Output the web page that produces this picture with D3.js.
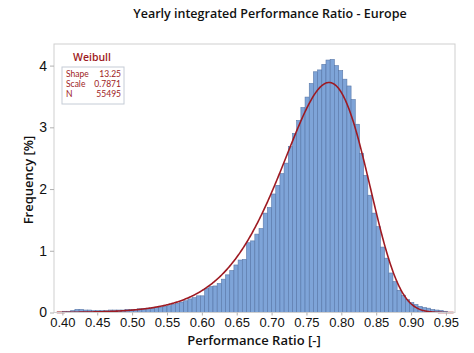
<!DOCTYPE html>
<html>
<head>
<meta charset="utf-8">
<script src="https://cdnjs.cloudflare.com/ajax/libs/d3/7.8.5/d3.min.js"></script>
<style>
  body { margin: 0; background: #fff; }
  svg { display: block; font-family: "Open Sans", sans-serif; }
  .tick text { fill: #111; font-size: 13px; }
  .tick line { stroke: #b0b0b0; }
</style>
</head>
<body>
<div id="graphic"></div>
<script>
// histogram bins: start, width and frequency [%] per bin
var binStart = 0.400;
var binWidth = 0.006;
var freq = [
  0.02, 0.02, 0.03, 0.05, 0.05, 0.04, 0.04, 0.03, 0.03, 0.03,
  0.03, 0.04, 0.04, 0.04, 0.04, 0.05, 0.05, 0.05, 0.06, 0.06,
  0.07, 0.07, 0.08, 0.09, 0.10, 0.11, 0.13, 0.15, 0.17, 0.19,
  0.22, 0.24, 0.27, 0.27, 0.39, 0.42, 0.43, 0.47, 0.54, 0.61,
  0.68, 0.77, 0.85, 0.86, 1.13, 1.16, 1.27, 1.36, 1.61, 1.70,
  1.92, 2.06, 2.25, 2.42, 2.69, 2.90, 3.11, 3.32, 3.49, 3.71,
  3.90, 3.93, 4.02, 4.09, 4.10, 4.00, 3.92, 3.78, 3.67, 3.45,
  3.05, 2.58, 2.22, 1.90, 1.61, 1.39, 1.06, 0.88, 0.64, 0.50,
  0.36, 0.28, 0.21, 0.16, 0.13, 0.10, 0.08, 0.07, 0.05, 0.04,
  0.03, 0.02
];

// fitted distribution (legend)
var fitName = "Weibull";
var fitLabels = ["Shape", "Scale", "N"];
var fitValues = ["13.25", "0.7871", "55495"];
var shape = 13.25;
var scale = 0.7871;

var xTicks = [0.40, 0.45, 0.50, 0.55, 0.60, 0.65, 0.70, 0.75, 0.80, 0.85, 0.90, 0.95];
var yTicks = [0, 1, 2, 3, 4];

var width = 474, height = 353;
var plot = { left: 54, right: 455, top: 44, bottom: 312.5 };

var svg = d3.select("#graphic").append("svg")
  .attr("width", width)
  .attr("height", height);

var x = d3.scaleLinear().domain([0.388, 0.963]).range([plot.left, plot.right]);
var y = d3.scaleLinear().domain([0, 4.35]).range([plot.bottom, plot.top]);

// title
svg.append("text")
  .attr("x", 270).attr("y", 18)
  .attr("text-anchor", "middle")
  .style("font-size", "12.5px")
  .style("font-weight", 600)
  .attr("fill", "#111")
  .text("Yearly integrated Performance Ratio - Europe");

// bars
var bins = freq.map(function(f, i) {
  return { x0: binStart + i * binWidth, x1: binStart + (i + 1) * binWidth, v: f };
});

svg.append("g").selectAll("rect")
  .data(bins)
  .join("rect")
  .attr("x", d => x(d.x0))
  .attr("width", d => x(d.x1) - x(d.x0))
  .attr("y", d => y(d.v))
  .attr("height", d => y(0) - y(d.v))
  .attr("fill", "#7ea4d8")
  .attr("stroke", "#5877a8")
  .attr("stroke-width", 0.6);

// fitted weibull curve, scaled to the bin width in percent
function weibull(v) {
  var u = v / scale;
  return (shape / scale) * Math.pow(u, shape - 1) * Math.exp(-Math.pow(u, shape)) * binWidth * 100;
}
var curvePts = d3.range(0.392, 0.962, 0.001);
svg.append("path")
  .datum(curvePts)
  .attr("fill", "none")
  .attr("stroke", "#9e1a22")
  .attr("stroke-width", 1.6)
  .attr("d", d3.line().x(d => x(d)).y(d => y(weibull(d))));

// frame
svg.append("rect")
  .attr("x", plot.left).attr("y", plot.top)
  .attr("width", plot.right - plot.left)
  .attr("height", plot.bottom - plot.top)
  .attr("fill", "none")
  .attr("stroke", "#cfcfcf");

// axes
var xAxis = svg.append("g")
  .attr("transform", "translate(0," + plot.bottom + ")")
  .call(d3.axisBottom(x).tickValues(xTicks).tickSize(3).tickPadding(2).tickFormat(d3.format(".2f")));
xAxis.select(".domain").remove();

var yAxis = svg.append("g")
  .attr("transform", "translate(" + plot.left + ",0)")
  .call(d3.axisLeft(y).tickValues(yTicks).tickSize(4).tickPadding(3).tickFormat(d3.format("d")));
yAxis.select(".domain").remove();
yAxis.selectAll(".tick text").style("font-size", "14px");

// axis titles
svg.append("text")
  .attr("x", 254).attr("y", 345)
  .attr("text-anchor", "middle")
  .style("font-size", "13px")
  .style("font-weight", 600)
  .attr("fill", "#111")
  .text("Performance Ratio [-]");

svg.append("text")
  .attr("transform", "translate(33,180) rotate(-90)")
  .attr("text-anchor", "middle")
  .style("font-size", "13px")
  .style("font-weight", 600)
  .attr("fill", "#111")
  .text("Frequency [%]");

// legend
svg.append("text")
  .attr("x", 73).attr("y", 61)
  .style("font-size", "10.5px")
  .style("font-weight", 600)
  .attr("fill", "#9e1a22")
  .text(fitName);

svg.append("rect")
  .attr("x", 62).attr("y", 67)
  .attr("width", 62).attr("height", 37)
  .attr("fill", "#fff")
  .attr("stroke", "#c5ccd6");

var rows = svg.append("g").selectAll("g")
  .data(d3.zip(fitLabels, fitValues))
  .join("g")
  .attr("transform", (d, i) => "translate(0," + (77 + i * 10) + ")")
  .style("font-family", "Lato, sans-serif")
  .style("font-size", "8.5px")
  .attr("fill", "#9e1a22");
rows.append("text").attr("x", 66).text(d => d[0]);
rows.append("text").attr("x", 121).attr("text-anchor", "end").text(d => d[1]);
</script>
</body>
</html>
